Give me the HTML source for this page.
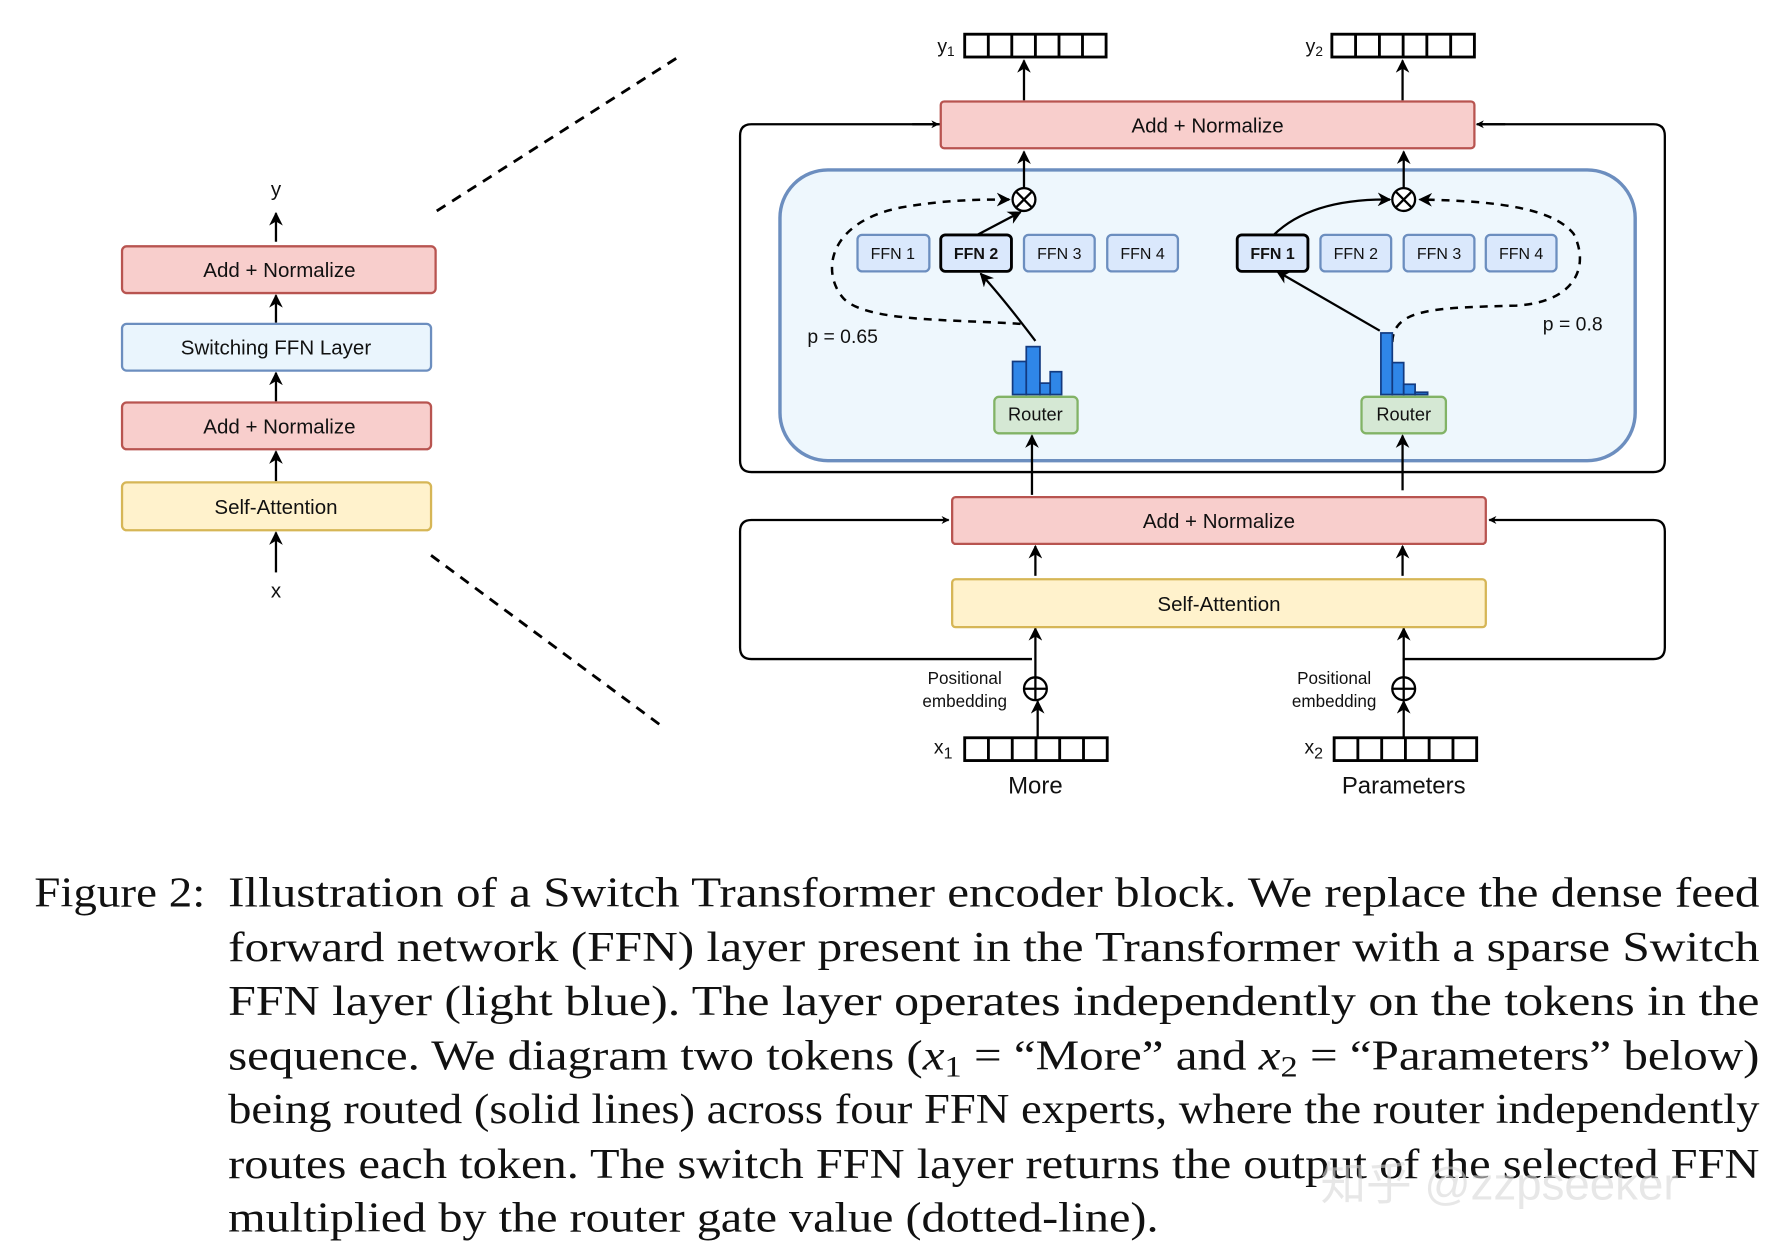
<!DOCTYPE html>
<html><head><meta charset="utf-8"><style>
html,body{margin:0;padding:0;background:#fff;width:1788px;height:1260px;overflow:hidden}
svg text{font-family:"Liberation Sans",sans-serif;fill:#111}
svg .cap{font-family:"Liberation Serif",serif;font-size:37px;fill:#111}
</style></head><body>
<svg width="1788" height="1260" viewBox="0 0 1568 1105" xmlns="http://www.w3.org/2000/svg">
<defs>
<marker id="a" viewBox="0 0 10 10" refX="9" refY="5" markerWidth="7" markerHeight="7" orient="auto" markerUnits="userSpaceOnUse"><path d="M0,0 L10,5 L0,10 L3,5 z" fill="#000"/></marker>
<marker id="b" viewBox="0 0 10 10" refX="9" refY="5" markerWidth="12" markerHeight="12" orient="auto" markerUnits="userSpaceOnUse"><path d="M0,0 L10,5 L0,10 L3,5 z" fill="#000"/></marker>
</defs>
<g stroke="#000" stroke-width="2" fill="none">
<line x1="242" y1="212" x2="242" y2="187" marker-end="url(#b)"/>
<line x1="242" y1="283" x2="242" y2="259" marker-end="url(#b)"/>
<line x1="242" y1="352" x2="242" y2="327" marker-end="url(#b)"/>
<line x1="242" y1="422" x2="242" y2="396" marker-end="url(#b)"/>
<line x1="242" y1="502" x2="242" y2="467" marker-end="url(#b)"/>
<line x1="383" y1="185" x2="598" y2="48" stroke-dasharray="9,7" stroke-width="2.5"/>
<line x1="378" y1="487" x2="582" y2="638" stroke-dasharray="9,7" stroke-width="2.5"/>
</g>
<g font-size="18" text-anchor="middle">
<rect x="107" y="216" width="275" height="41" rx="4" fill="#f8cecc" stroke="#b85450" stroke-width="2"/>
<text x="245" y="243">Add + Normalize</text>
<rect x="107" y="284" width="271" height="41" rx="4" fill="#eaf5fd" stroke="#6c8ebf" stroke-width="2"/>
<text x="242" y="311">Switching FFN Layer</text>
<rect x="107" y="353" width="271" height="41" rx="4" fill="#f8cecc" stroke="#b85450" stroke-width="2"/>
<text x="245" y="380">Add + Normalize</text>
<rect x="107" y="423" width="271" height="42" rx="4" fill="#fff2cc" stroke="#d6b656" stroke-width="2"/>
<text x="242" y="451">Self-Attention</text>
<text x="242" y="172">y</text>
<text x="242" y="524">x</text>
</g>

<g stroke="#000" stroke-width="2" fill="none">
<path d="M898,109 L659,109 Q649,109 649,119 L649,404 Q649,414 659,414 L1450,414 Q1460,414 1460,404 L1460,119 Q1460,109 1450,109 L1296,109" />
<line x1="800" y1="109" x2="823" y2="109" marker-end="url(#a)"/>
<line x1="1320" y1="109" x2="1295" y2="109" marker-end="url(#a)"/>
<path d="M905,578 L659,578 Q649,578 649,568 L649,466 Q649,456 659,456 L832,456" marker-end="url(#a)"/>
<path d="M1230,578 L1450,578 Q1460,578 1460,568 L1460,466 Q1460,456 1450,456 L1306,456" marker-end="url(#a)"/>
</g>
<rect x="684" y="149" width="750" height="255" rx="42" fill="#eef7fd" stroke="#6c8ebf" stroke-width="3"/>

<g stroke="#000" stroke-width="2.5" fill="#fff">
<rect x="846" y="30" width="124" height="20"/><rect x="1168" y="30" width="125" height="20"/>
<rect x="846" y="647" width="125" height="20"/><rect x="1170" y="647" width="125" height="20"/>
</g>
<g stroke="#000" stroke-width="2.5">
<line x1="866.7" y1="30" x2="866.7" y2="50"/><line x1="887.3" y1="30" x2="887.3" y2="50"/><line x1="908" y1="30" x2="908" y2="50"/><line x1="928.7" y1="30" x2="928.7" y2="50"/><line x1="949.3" y1="30" x2="949.3" y2="50"/>
<line x1="1188.8" y1="30" x2="1188.8" y2="50"/><line x1="1209.7" y1="30" x2="1209.7" y2="50"/><line x1="1230.5" y1="30" x2="1230.5" y2="50"/><line x1="1251.3" y1="30" x2="1251.3" y2="50"/><line x1="1272.2" y1="30" x2="1272.2" y2="50"/>
<line x1="866.8" y1="647" x2="866.8" y2="667"/><line x1="887.7" y1="647" x2="887.7" y2="667"/><line x1="908.5" y1="647" x2="908.5" y2="667"/><line x1="929.3" y1="647" x2="929.3" y2="667"/><line x1="950.2" y1="647" x2="950.2" y2="667"/>
<line x1="1190.8" y1="647" x2="1190.8" y2="667"/><line x1="1211.7" y1="647" x2="1211.7" y2="667"/><line x1="1232.5" y1="647" x2="1232.5" y2="667"/><line x1="1253.3" y1="647" x2="1253.3" y2="667"/><line x1="1274.2" y1="647" x2="1274.2" y2="667"/>
</g>
<g stroke="#000" stroke-width="2" fill="none">
<line x1="898" y1="88" x2="898" y2="53" marker-end="url(#b)"/>
<line x1="1230" y1="88" x2="1230" y2="53" marker-end="url(#b)"/>
<line x1="898" y1="165" x2="898" y2="133" marker-end="url(#b)"/>
<line x1="1231" y1="165" x2="1231" y2="133" marker-end="url(#b)"/>
<line x1="905" y1="414" x2="905" y2="382" marker-end="url(#b)"/>
<line x1="1230" y1="430" x2="1230" y2="382" marker-end="url(#b)"/>
<line x1="905" y1="414" x2="905" y2="434"/>
<line x1="908" y1="505" x2="908" y2="479" marker-end="url(#b)"/>
<line x1="1230" y1="505" x2="1230" y2="479" marker-end="url(#b)"/>
<line x1="908" y1="594" x2="908" y2="551" marker-end="url(#b)"/>
<line x1="1231" y1="594" x2="1231" y2="551" marker-end="url(#b)"/>
<line x1="910" y1="647" x2="910" y2="615" marker-end="url(#b)"/>
<line x1="1231" y1="647" x2="1231" y2="615" marker-end="url(#b)"/>
<line x1="857" y1="206" x2="895" y2="186" marker-end="url(#b)"/>
<path d="M908,299 Q880,262 860,240" marker-end="url(#b)"/>
<path d="M1117,206 Q1150,174 1219,175" marker-end="url(#b)"/>
<path d="M1210,290 L1120,238" marker-end="url(#b)"/>
<path d="M895,284 C830,280 760,282 740,262 C720,240 725,195 790,182 C830,175 860,175 885,175" stroke-dasharray="7,6" stroke-width="2.2" marker-end="url(#b)"/>
<path d="M1221,300 C1222,270 1260,270 1330,268 C1380,265 1395,235 1380,205 C1360,180 1300,176 1245,175" stroke-dasharray="7,6" stroke-width="2.2" marker-end="url(#b)"/>
</g>
<g stroke="#000" stroke-width="2" fill="#fff">
<circle cx="898" cy="175" r="10"/><circle cx="1231" cy="175" r="10"/>
<circle cx="908" cy="604" r="10"/><circle cx="1231" cy="604" r="10"/>
</g>
<g stroke="#000" stroke-width="2">
<line x1="891" y1="168" x2="905" y2="182"/><line x1="905" y1="168" x2="891" y2="182"/>
<line x1="1224" y1="168" x2="1238" y2="182"/><line x1="1238" y1="168" x2="1224" y2="182"/>
<line x1="898" y1="604" x2="918" y2="604"/><line x1="908" y1="594" x2="908" y2="614"/>
<line x1="1221" y1="604" x2="1241" y2="604"/><line x1="1231" y1="594" x2="1231" y2="614"/>
</g>

<g font-size="18" text-anchor="middle">
<rect x="825" y="89" width="468" height="41" rx="3" fill="#f8cecc" stroke="#b85450" stroke-width="2"/>
<text x="1059" y="116">Add + Normalize</text>
<rect x="835" y="436" width="468" height="41" rx="3" fill="#f8cecc" stroke="#b85450" stroke-width="2"/>
<text x="1069" y="463">Add + Normalize</text>
<rect x="835" y="508" width="468" height="42" rx="3" fill="#fff2cc" stroke="#d6b656" stroke-width="2"/>
<text x="1069" y="536">Self-Attention</text>
</g>

<g font-size="14" text-anchor="middle">
<rect x="752" y="206" width="63" height="32" rx="4" fill="#dae8fc" stroke="#6c8ebf" stroke-width="2"/><text x="783" y="227">FFN 1</text>
<rect x="825" y="206" width="62" height="32" rx="4" fill="#dae8fc" stroke="#000" stroke-width="2.5"/><text x="856" y="227" font-weight="bold">FFN 2</text>
<rect x="898" y="206" width="62" height="32" rx="4" fill="#dae8fc" stroke="#6c8ebf" stroke-width="2"/><text x="929" y="227">FFN 3</text>
<rect x="971" y="206" width="62" height="32" rx="4" fill="#dae8fc" stroke="#6c8ebf" stroke-width="2"/><text x="1002" y="227">FFN 4</text>
<rect x="1085" y="206" width="62" height="32" rx="4" fill="#dae8fc" stroke="#000" stroke-width="2.5"/><text x="1116" y="227" font-weight="bold">FFN 1</text>
<rect x="1158" y="206" width="62" height="32" rx="4" fill="#dae8fc" stroke="#6c8ebf" stroke-width="2"/><text x="1189" y="227">FFN 2</text>
<rect x="1231" y="206" width="62" height="32" rx="4" fill="#dae8fc" stroke="#6c8ebf" stroke-width="2"/><text x="1262" y="227">FFN 3</text>
<rect x="1303" y="206" width="62" height="32" rx="4" fill="#dae8fc" stroke="#6c8ebf" stroke-width="2"/><text x="1334" y="227">FFN 4</text>
</g>

<g fill="#2f86e8" stroke="#123a80" stroke-width="1.5">
<rect x="888" y="317" width="12" height="29"/><rect x="900" y="304" width="12" height="42"/><rect x="912" y="336" width="9" height="10"/><rect x="921" y="326" width="10" height="20"/>
<rect x="1211" y="292" width="10" height="54"/><rect x="1221" y="318" width="10" height="28"/><rect x="1231" y="337" width="10" height="9"/><rect x="1241" y="344" width="11" height="2"/>
</g>
<g font-size="16" text-anchor="middle">
<rect x="872" y="348" width="73" height="32" rx="4" fill="#d5e8d4" stroke="#82b366" stroke-width="2"/><text x="908" y="369">Router</text>
<rect x="1194" y="348" width="74" height="32" rx="4" fill="#d5e8d4" stroke="#82b366" stroke-width="2"/><text x="1231" y="369">Router</text>
</g>
<text x="708" y="301" font-size="17">p = 0.65</text>
<text x="1353" y="290" font-size="17">p = 0.8</text>
<g font-size="15" text-anchor="middle">
<text x="846" y="600">Positional</text><text x="846" y="620">embedding</text>
<text x="1170" y="600">Positional</text><text x="1170" y="620">embedding</text>
</g>
<g font-size="17">
<text x="822" y="46">y<tspan font-size="12" dy="3">1</tspan></text>
<text x="1145" y="46">y<tspan font-size="12" dy="3">2</tspan></text>
<text x="819" y="661">x<tspan font-size="14" dy="4">1</tspan></text>
<text x="1144" y="661">x<tspan font-size="14" dy="4">2</tspan></text>
</g>
<text x="908" y="696" font-size="21" text-anchor="middle">More</text>
<text x="1231" y="696" font-size="21" text-anchor="middle">Parameters</text>

<text class="cap" x="30" y="795" textLength="150" lengthAdjust="spacingAndGlyphs">Figure 2:</text>
<text class="cap" x="200" y="795" textLength="1343" lengthAdjust="spacingAndGlyphs">Illustration of a Switch Transformer encoder block.  We replace the dense feed</text>
<text class="cap" x="200" y="843" textLength="1343" lengthAdjust="spacingAndGlyphs">forward network (FFN) layer present in the Transformer with a sparse Switch</text>
<text class="cap" x="200" y="890" textLength="1343" lengthAdjust="spacingAndGlyphs">FFN layer (light blue).  The layer operates independently on the tokens in the</text>
<text class="cap" x="200" y="938" textLength="1343" lengthAdjust="spacingAndGlyphs">sequence.  We diagram two tokens (<tspan font-style="italic">x</tspan><tspan font-size="26" dy="6">1</tspan><tspan dy="-6"> = “More” and </tspan><tspan font-style="italic">x</tspan><tspan font-size="26" dy="6">2</tspan><tspan dy="-6"> = “Parameters” below)</tspan></text>
<text class="cap" x="200" y="985" textLength="1343" lengthAdjust="spacingAndGlyphs">being routed (solid lines) across four FFN experts, where the router independently</text>
<text class="cap" x="200" y="1033" textLength="1343" lengthAdjust="spacingAndGlyphs">routes each token.  The switch FFN layer returns the output of the selected FFN</text>
<text class="cap" x="200" y="1080" textLength="816" lengthAdjust="spacingAndGlyphs">multiplied by the router gate value (dotted-line).</text>
<text x="1158" y="1052" font-size="40" style="fill:#d8d8d8;font-family:'Liberation Sans','Noto Sans CJK SC',sans-serif" opacity="0.6">知乎 @zzpseeker</text>
</svg>
</body></html>
